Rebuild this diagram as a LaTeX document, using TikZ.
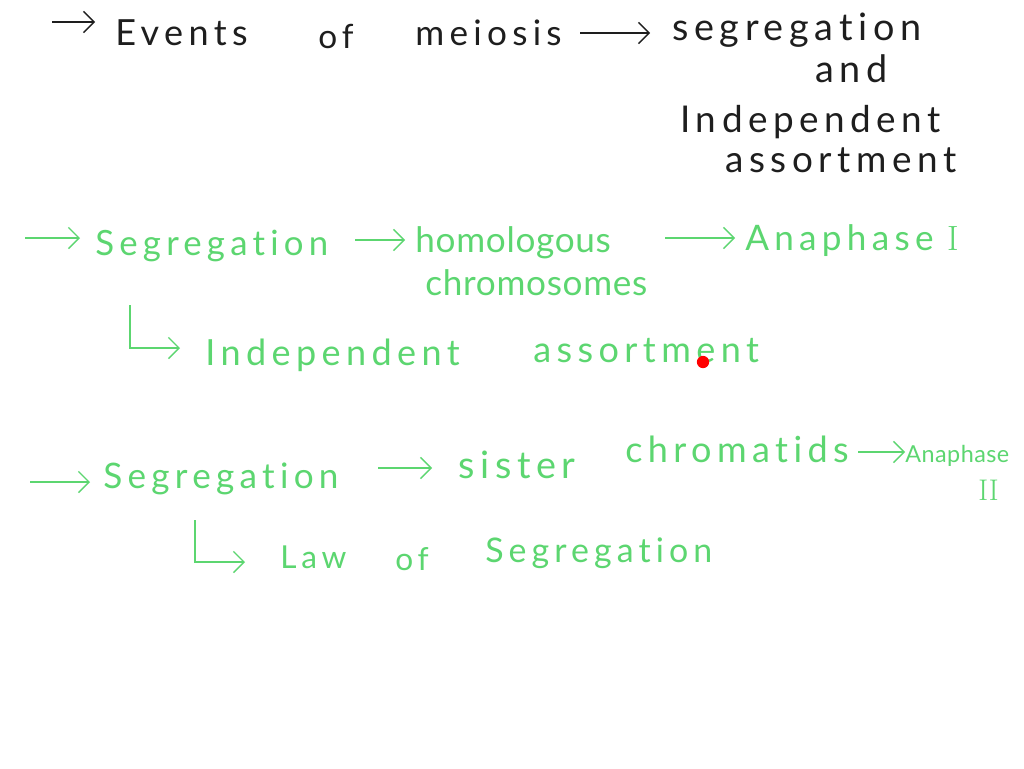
\documentclass[tikz,border=0pt]{standalone}
\usepackage{fontspec}
\usetikzlibrary{arrows.meta}
\newfontfamily\hand[LetterSpace=15,Ligatures=NoCommon]{Lato}
\newfontfamily\handtight[LetterSpace=2,Ligatures=NoCommon]{Lato}
\definecolor{ink}{RGB}{30,30,30}
\definecolor{pen}{RGB}{92,214,112}
\tikzset{
  word/.style={anchor=base west,inner sep=0pt},
  arr/.style={-{Straight Barb[length=6pt,width=12pt]},line width=0.8pt},
  elbow/.style={arr,rounded corners=0pt}
}
\begin{document}
\begin{tikzpicture}[x=0.02cm,y=-0.02cm]
\useasboundingbox[fill=white](0,0) rectangle (1024,768);
% heading, black
\begin{scope}[ink,every node/.append style={text=ink}]
\foreach \n/\x/\y/\s/\t in {ev/115/45/20.5/Events,ofa/318/48/19/of,mei/415/45/20/meiosis,segt/672/40/21.5/segregation,and/815/82/21.5/and,indt/680/132/21/Independent,asst/725/172/21/assortment}{
  \node[word,font=\hand\fontsize{\s}{\s}\selectfont](\n) at (\x,\y){\t};
}
\coordinate (h0) at (52,22);
\coordinate (h1) at (580,33);
\draw[arr,ink,shorten >=0.4cm] (h0) -- (h0 -| ev.west);
\draw[arr,ink,shorten >=0.44cm] (h1) -- (h1 -| segt.west);
\end{scope}
% first segregation, green
\begin{scope}[pen,every node/.append style={text=pen}]
\foreach \n/\x/\y/\s/\t in {sega/95/255/19.8/Segregation,anaa/745/250/20/{Anaphase \normalfont I},inda/205/365/20.5/Independent,assa/533/362/20.5/assortment}{
  \node[word,font=\hand\fontsize{\s}{\s}\selectfont](\n) at (\x,\y){\t};
}
\node[word,font=\handtight\fontsize{20}{20}\selectfont](hom) at (415,252){homologous};
\node[word,font=\handtight\fontsize{20}{20}\selectfont](chr) at (425,295){chromosomes};
\coordinate (g0) at (25,238);
\coordinate (g1) at (355,240);
\coordinate (g2) at (665,238);
\coordinate (g3) at (130,305);
\draw[arr,pen,shorten >=0.3cm] (g0) -- (g0 -| sega.west);
\draw[arr,pen,shorten >=0.2cm] (g1) -- (g1 -| hom.west);
\draw[arr,pen,shorten >=0.2cm] (g2) -- (g2 -| anaa.west);
\draw[elbow,pen,shorten >=0.5cm] (g3) |- (inda.west |- 0,348);
\end{scope}
\fill[red] (703,362) circle (3.5pt);
% second segregation, green
\begin{scope}[pen,every node/.append style={text=pen}]
\foreach \n/\x/\y/\s/\t in {segb/103/488/20/Segregation,sis/458/478/21.5/sister,chd/625/462/20.5/chromatids,law/280/568/18/Law,ofb/395/570/18/of,segc/485/562/19.3/Segregation}{
  \node[word,font=\hand\fontsize{\s}{\s}\selectfont](\n) at (\x,\y){\t};
}
\node[word,font=\handtight\fontsize{13.3}{14}\selectfont](anab) at (905,462){Anaphase};
\node[word,font=\normalfont\fontsize{17}{19}\selectfont](two) at (978,500){II};
\coordinate (k0) at (30,482);
\coordinate (k1) at (378,468);
\coordinate (k2) at (858,452);
\coordinate (k3) at (195,520);
\draw[arr,pen,shorten >=0.26cm] (k0) -- (k0 -| segb.west);
\draw[arr,pen,shorten >=0.52cm] (k1) -- (k1 -| sis.west);
\draw[arr,pen] (k2) -- (k2 -| anab.west);
\draw[elbow,pen,shorten >=0.7cm] (k3) |- (law.west |- 0,562);
\end{scope}
\end{tikzpicture}
\end{document}
